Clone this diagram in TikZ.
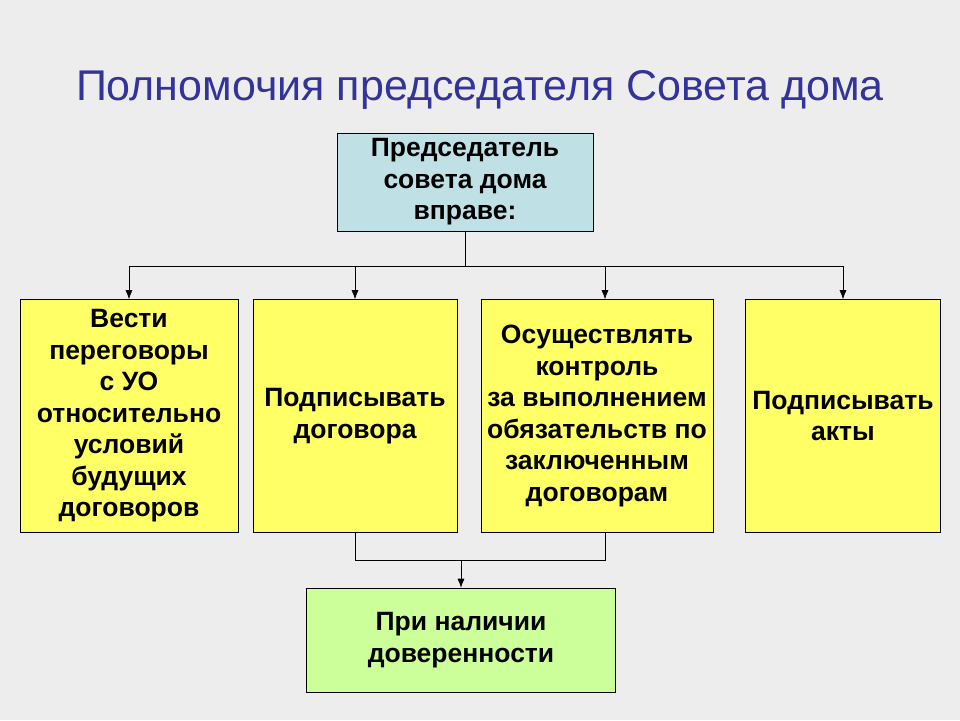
\documentclass[tikz,border=0pt]{standalone}
\usepackage{fontspec}
\setmainfont{Liberation Sans}
\usetikzlibrary{positioning,arrows.meta}
\definecolor{titleblue}{HTML}{333399}
\definecolor{headfill}{HTML}{BFE1E6}
\definecolor{itemfill}{HTML}{FFFF66}
\definecolor{notefill}{HTML}{CCFF99}
\tikzset{
  box/.style={rectangle,draw=black,semithick,align=center,inner sep=1pt,
    font=\bfseries\fontsize{26.5}{31.5}\selectfont},
  head/.style={box,fill=headfill,minimum width=256pt,minimum height=98pt},
  item/.style={box,fill=itemfill,minimum height=233pt},
  note/.style={box,fill=notefill,minimum width=309pt,minimum height=104pt},
}
\begin{document}
\begin{tikzpicture}[x=1pt,y=-1pt,>={Latex[length=9pt,width=7pt]},semithick]
  \fill[gray!14] (0,0) rectangle (960,720);
  \useasboundingbox (0,0) rectangle (960,720);
  % title
  \node[text=titleblue,font=\fontsize{43}{48}\selectfont] (title) at (480,90)
    {Полномочия председателя Совета дома};
  % chairman
  \node[head] (chair) at (465,182) {Председатель\\ совета дома\\ вправе:};
  % powers
  \node[item,minimum width=218pt] (talk) at (129,416)
    {Вести\\ переговоры\\ с УО\\ относительно\\ условий\\ будущих\\ договоров};
  \node[item,minimum width=204pt] (sign) at (355,416) {Подписывать\\ договора};
  \node[item,minimum width=232pt] (ctrl) at (597,416)
    {Осуществлять\\ контроль\\ за выполнением\\ обязательств по\\ заключенным\\ договорам};
  \node[item,minimum width=195pt] (acts) at (843,416) {Подписывать\\ акты};
  % condition
  \node[note] (proxy) at (461,640) {При наличии\\ доверенности};
  \coordinate (bus) at (465,266);
  \draw (chair.south) -- (bus);
  \draw[->] (bus) -| (talk.north);
  \draw[->] (bus) -| (sign.north);
  \draw[->] (bus) -| (ctrl.north-|605,0);
  \draw[->] (bus) -| (acts.north);
  \draw (sign.south) |- (ctrl.south|-0,560) coordinate (join);
  \draw (ctrl.south-|605,0) |- (join);
  \draw[->] (461,560) -- (proxy.north);
\end{tikzpicture}
\end{document}
